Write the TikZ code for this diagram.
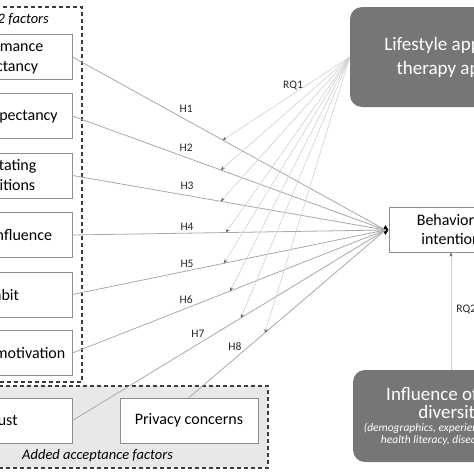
\documentclass[tikz,border=0pt]{standalone}
\usepackage{fontspec}
\setmainfont{Carlito}
\usetikzlibrary{shapes.geometric,arrows.meta,calc}
\definecolor{boxgray}{HTML}{8E8E8E}
\definecolor{hgray}{HTML}{A8A8A8}
\definecolor{rqgray}{HTML}{CFCFCF}
\definecolor{darkbox}{HTML}{767676}
\definecolor{addgray}{HTML}{E8E8E8}
\definecolor{framecol}{HTML}{3C3C3C}
\begin{document}
\begin{tikzpicture}[x=1pt,y=-1pt,
  fbox/.style={draw=boxgray, line width=0.9pt, fill=white, minimum width=141pt, minimum height=45pt, align=center, font=\fontsize{16}{20}\selectfont, inner sep=0pt},
  dbox/.style={fill=darkbox, rounded corners=12pt, align=center, text=white, inner sep=0pt},
  hline/.style={draw=hgray, line width=0.8pt},
  rqline/.style={draw=rqgray, line width=0.6pt},
  rqarrow/.style={rqline, -{Stealth[length=4pt,width=3pt,color=black!65]}},
  hlbl/.style={font=\fontsize{11.5}{13}\selectfont, inner sep=0pt, text=black!85},
  frame/.style={draw=framecol, dash pattern=on 4pt off 3pt, line width=1.4pt},
  ftitle/.style={font=\fontsize{14.5}{16}\selectfont\itshape, inner sep=0pt}
]
\useasboundingbox (0,0) rectangle (474,474);
\clip (0,0) rectangle (474,474);

% frames
\draw[frame, fill=white] (-80,7) rectangle (82,382);
\draw[frame, fill=addgray] (-80,386) rectangle (268,468);
\node[ftitle, anchor=east] (t1) at (49,19) {UTAUT2 factors};
\node[ftitle, anchor=west] (t2) at (22,456) {Added acceptance factors};

% factor boxes
\node[fbox] (pe) at (1.5,57) {Performance\\expectancy};
\node[fbox] (ee) at (1.5,116) {Effort expectancy};
\node[fbox] (fc) at (1.5,175.5) {Facilitating\\conditions};
\node[fbox] (si) at (1.5,235) {Social influence};
\node[fbox] (hb) at (1.5,294.5) {Habit};
\node[fbox] (hm) at (1.5,353) {Hedonic motivation};
\node[fbox] (tr) at (1.5,420.5) {Trust};
\node[fbox, minimum width=138pt] (pc) at (189,420.5) {Privacy concerns};

% outcome and moderators
\node[fbox, minimum width=124pt] (bi) at (451,229.5) {Behavioral\\intention};
\node[dbox, minimum width=186pt, minimum height=100pt, font=\fontsize{19}{24}\selectfont] (la) at (443,57) {Lifestyle app or\\therapy app};
\node[dbox, minimum width=196pt, minimum height=92pt, font=\fontsize{19}{20}\selectfont] (iu) at (451,416)
  {Influence of user\\[-2pt]diversity\\[-7pt]{\fontsize{11.5}{11}\selectfont\itshape (demographics, experience, attitudes,}\\[-8pt]{\fontsize{11.5}{11}\selectfont\itshape health literacy, disease status)}};

\node[diamond, fill=black, inner sep=0pt, minimum width=6pt, minimum height=10pt] (tip) at (385.5,230) {};

% hypotheses
\draw[hline] (pe.east) -- coordinate[pos=0.48] (m1) node[hlbl, pos=0.363, yshift=11pt] (h1) {H1} (tip.center);
\draw[hline] (ee.east) -- coordinate[pos=0.474] (m2) node[hlbl, pos=0.363, yshift=9.5pt] (h2) {H2} (tip.center);
\draw[hline] (fc.east) -- coordinate[pos=0.474] (m3) node[hlbl, pos=0.366, yshift=10pt] (h3) {H3} (tip.center);
\draw[hline] (si.east) -- coordinate[pos=0.49] (m4) node[hlbl, pos=0.366, yshift=6.5pt] (h4) {H4} (tip.center);
\draw[hline] (hb.east) -- coordinate[pos=0.484] (m5) node[hlbl, pos=0.366, yshift=7.5pt] (h5) {H5} (tip.center);
\draw[hline] (hm.east) -- coordinate[pos=0.503] (m6) node[hlbl, pos=0.363, yshift=9pt] (h6) {H6} (tip.center);
\draw[hline] (tr.east) -- coordinate[pos=0.538] (m7) node[hlbl, pos=0.401, yshift=10pt] (h7) {H7} (tip.center);
\draw[hline] (pc.north) -- coordinate[pos=0.386] (m8) node[hlbl, pos=0.234, yshift=11.5pt] (h8) {H8} (tip.center);

% RQ1 moderation
\foreach \m in {m1,m2,m3,m4,m5,m6,m7,m8}
  \draw[rqarrow] (la.west) -- (\m);
\node[hlbl] (rq1) at (293,86) {RQ1};

% RQ2
\draw[rqarrow, line width=0.8pt] (iu.north) -- node[hlbl, pos=0.517, anchor=west, xshift=5pt] (rq2) {RQ2} (bi.south);
\end{tikzpicture}
\end{document}
